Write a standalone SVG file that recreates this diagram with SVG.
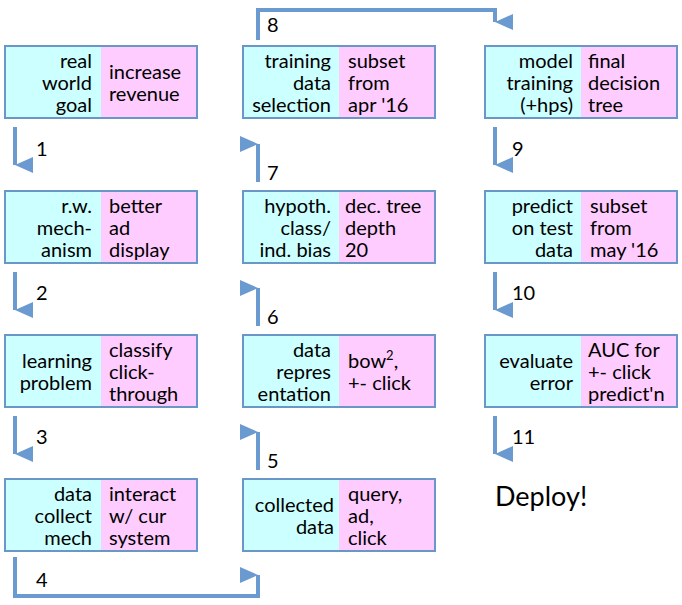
<svg xmlns="http://www.w3.org/2000/svg" width="682" height="605" viewBox="0 0 682 605">
<style>
text{font-family:Lato,"Open Sans","Liberation Sans",sans-serif;font-size:20px;fill:#000}
.c{fill:#ccffff}.p{fill:#ffccff}.b{fill:none;stroke:#6a96c8;stroke-width:2}
.l{text-anchor:end}
.con{fill:none;stroke:#6a9ad0;stroke-width:4}
.n{font-size:20px}
</style>
<defs><marker id="a" markerWidth="6" markerHeight="7" refX="3" refY="6" orient="auto" markerUnits="userSpaceOnUse" viewBox="0 0 6 7"><path d="M0,0 L6,0 L3,6z" fill="#6a9ad0" transform="scale(1)"/></marker>
<marker id="h" viewBox="0 0 16 18" refX="8" refY="18" markerWidth="16" markerHeight="18" orient="auto-start-reverse" markerUnits="userSpaceOnUse"><path d="M0,0 L16,0 L8,18z" fill="#6a9ad0"/></marker></defs>
<g id="connectors">
<path class="con" d="M15,127V165" marker-end="url(#h)"/>
<path class="con" d="M15,272V310" marker-end="url(#h)"/>
<path class="con" d="M15,416V454" marker-end="url(#h)"/>
<path class="con" d="M15,557V596H258V575" marker-end="url(#h)"/>
<path class="con" d="M258,470V432" marker-end="url(#h)"/>
<path class="con" d="M258,326V288" marker-end="url(#h)"/>
<path class="con" d="M258,182V144" marker-end="url(#h)"/>
<path class="con" d="M258,40V10H495V22" marker-end="url(#h)"/>
<path class="con" d="M495,127V165" marker-end="url(#h)"/>
<path class="con" d="M495,272V310" marker-end="url(#h)"/>
<path class="con" d="M495,416V454" marker-end="url(#h)"/>
<text x="36" y="156">1</text><text x="36" y="300">2</text><text x="36" y="444">3</text><text x="36" y="587">4</text>
<text x="267" y="468">5</text><text x="267" y="324">6</text><text x="267" y="180">7</text><text x="267" y="32">8</text>
<text x="512" y="156">9</text><text x="512" y="300">10</text><text x="512" y="444">11</text>
</g>
<g id="n1"><rect class="c" x="5" y="46" width="96" height="72"/><rect class="p" x="101" y="46" width="96" height="72"/><rect class="b" x="5" y="46" width="192" height="72"/>
<text class="l" x="92" y="68">real</text><text class="l" x="92" y="90">world</text><text class="l" x="92" y="112">goal</text><text x="109" y="79">increase</text><text x="109" y="101">revenue</text></g>
<g id="n2"><rect class="c" x="5" y="191" width="96" height="72"/><rect class="p" x="101" y="191" width="96" height="72"/><rect class="b" x="5" y="191" width="192" height="72"/>
<text class="l" x="92" y="213">r.w.</text><text class="l" x="92" y="235">mech-</text><text class="l" x="92" y="257">anism</text><text x="109" y="213">better</text><text x="109" y="235">ad</text><text x="109" y="257">display</text></g>
<g id="n3"><rect class="c" x="5" y="335" width="96" height="72"/><rect class="p" x="101" y="335" width="96" height="72"/><rect class="b" x="5" y="335" width="192" height="72"/>
<text class="l" x="92" y="368">learning</text><text class="l" x="92" y="390">problem</text><text x="109" y="357">classify</text><text x="109" y="379">click-</text><text x="109" y="401">through</text></g>
<g id="n4"><rect class="c" x="5" y="479" width="96" height="72"/><rect class="p" x="101" y="479" width="96" height="72"/><rect class="b" x="5" y="479" width="192" height="72"/>
<text class="l" x="92" y="501">data</text><text class="l" x="92" y="523">collect</text><text class="l" x="92" y="545">mech</text><text x="109" y="501">interact</text><text x="109" y="523">w/ cur</text><text x="109" y="545">system</text></g>
<g id="n5"><rect class="c" x="243" y="479" width="96" height="72"/><rect class="p" x="339" y="479" width="96" height="72"/><rect class="b" x="243" y="479" width="192" height="72"/>
<text class="l" x="334" y="512">collected</text><text class="l" x="334" y="534">data</text><text x="348" y="501">query,</text><text x="348" y="523">ad,</text><text x="348" y="545">click</text></g>
<g id="n6"><rect class="c" x="243" y="335" width="96" height="72"/><rect class="p" x="339" y="335" width="96" height="72"/><rect class="b" x="243" y="335" width="192" height="72"/>
<text class="l" x="331" y="357">data</text><text class="l" x="331" y="379">repres</text><text class="l" x="331" y="401">entation</text><text x="348" y="368">bow<tspan dy="-8" font-size="13">2</tspan><tspan dy="8">,</tspan></text><text x="348" y="390">+- click</text></g>
<g id="n7"><rect class="c" x="243" y="191" width="96" height="72"/><rect class="p" x="339" y="191" width="96" height="72"/><rect class="b" x="243" y="191" width="192" height="72"/>
<text class="l" x="331" y="213">hypoth.</text><text class="l" x="331" y="235">class/</text><text class="l" x="331" y="257">ind. bias</text><text x="345" y="213">dec. tree</text><text x="345" y="235">depth</text><text x="345" y="257">20</text></g>
<g id="n8"><rect class="c" x="243" y="46" width="96" height="72"/><rect class="p" x="339" y="46" width="96" height="72"/><rect class="b" x="243" y="46" width="192" height="72"/>
<text class="l" x="331" y="68">training</text><text class="l" x="331" y="90">data</text><text class="l" x="331" y="112">selection</text><text x="348" y="68">subset</text><text x="348" y="90">from</text><text x="348" y="112">apr '16</text></g>
<g id="n9"><rect class="c" x="485" y="46" width="96" height="72"/><rect class="p" x="581" y="46" width="96" height="72"/><rect class="b" x="485" y="46" width="192" height="72"/>
<text class="l" x="573" y="68">model</text><text class="l" x="573" y="90">training</text><text class="l" x="573" y="112">(+hps)</text><text x="588" y="68">final</text><text x="588" y="90">decision</text><text x="588" y="112">tree</text></g>
<g id="n10"><rect class="c" x="485" y="191" width="96" height="72"/><rect class="p" x="581" y="191" width="96" height="72"/><rect class="b" x="485" y="191" width="192" height="72"/>
<text class="l" x="573" y="213">predict</text><text class="l" x="573" y="235">on test</text><text class="l" x="573" y="257">data</text><text x="590" y="213">subset</text><text x="590" y="235">from</text><text x="590" y="257">may '16</text></g>
<g id="n11"><rect class="c" x="485" y="335" width="96" height="72"/><rect class="p" x="581" y="335" width="96" height="72"/><rect class="b" x="485" y="335" width="192" height="72"/>
<text class="l" x="573" y="368">evaluate</text><text class="l" x="573" y="390">error</text><text x="588" y="357">AUC for</text><text x="588" y="379">+- click</text><text x="588" y="401">predict'n</text></g>
<g id="deploy"><text x="495" y="506" style="font-size:27px">Deploy!</text></g>
</svg>
